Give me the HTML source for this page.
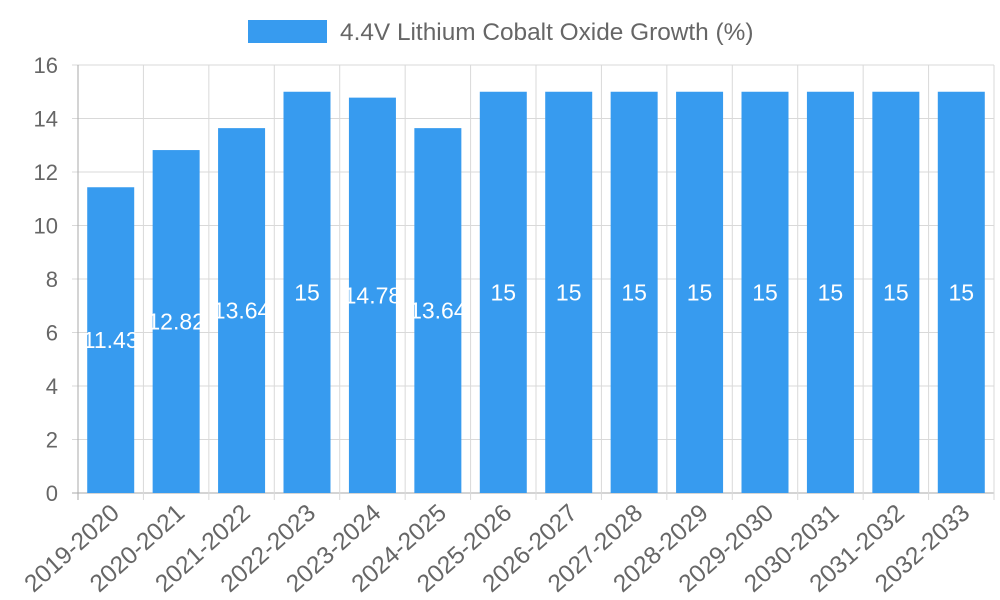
<!DOCTYPE html>
<html><head><meta charset="utf-8"><style>
html,body{margin:0;padding:0;background:#fff;width:1000px;height:600px;overflow:hidden}
text{font-family:"Liberation Sans",sans-serif}
</style></head><body>
<svg id="chart" width="1000" height="600" xmlns="http://www.w3.org/2000/svg">
<g id="legend">
<rect x="248" y="20" width="79" height="23" fill="#379bef"/>
<text x="340" y="40" font-size="24.4" fill="#666">4.4V Lithium Cobalt Oxide Growth (%)</text>
</g>
<g id="grid"></g><g id="bars"></g><g id="labels"></g><g id="axes"></g>
</svg>
<script>
const categories=["2019-2020","2020-2021","2021-2022","2022-2023","2023-2024","2024-2025","2025-2026","2026-2027","2027-2028","2028-2029","2029-2030","2030-2031","2031-2032","2032-2033"];
const values=[11.43,12.82,13.64,15,14.78,13.64,15,15,15,15,15,15,15,15];
const yTicks=[0,2,4,6,8,10,12,14,16];
const NS="http://www.w3.org/2000/svg";
const L=78,R=994,T=65,B=493,yMax=16;
const band=(R-L)/categories.length;
const y=v=>B-(v/yMax)*(B-T);
const x=i=>L+band*i;
function mk(tag,attrs,parent,txt){const e=document.createElementNS(NS,tag);for(const k in attrs)e.setAttribute(k,attrs[k]);if(txt!==undefined)e.textContent=txt;document.getElementById(parent).appendChild(e);return e;}
yTicks.forEach(t=>{
 const g=mk('line',{x1:L-6,x2:R,y1:y(t),y2:y(t),stroke:t===0?'#aaa':'#d9d9d9','stroke-width':1},'grid');
 
 
 const tl=mk('text',{x:L-20,y:y(t)+8,'text-anchor':'end','font-size':22,fill:'#666'},'axes',String(t));
 
 
});
for(let i=0;i<=categories.length;i++){
 const g=mk('line',{x1:x(i),x2:x(i),y1:T,y2:B+7,stroke:i===0?'#aaa':'#d9d9d9','stroke-width':1},'grid');
 
 
}
categories.forEach((c,i)=>{
 const cx=x(i)+band/2,bw=47;
 const r=mk('rect',{x:cx-bw/2,y:y(values[i]),width:bw,height:B-y(values[i]),fill:'#379bef'},'bars');
 
 
 const vl=mk('text',{x:cx,y:(y(values[i])+B)/2+8,'text-anchor':'middle','font-size':23,fill:'#fff'},'labels',String(values[i]));
 
 
 const xl=mk('text',{x:0,y:0,'text-anchor':'end','font-size':24.5,fill:'#666',transform:`translate(${cx+10},${B+22}) rotate(-42)`},'axes',c);
 
 
});
</script>
</body></html>
